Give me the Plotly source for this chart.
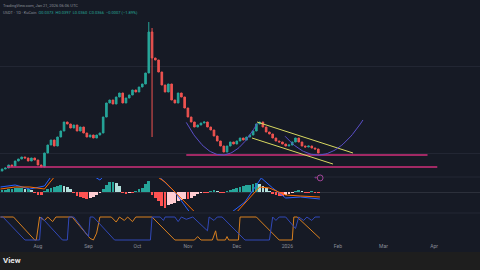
import plotly.graph_objects as go
import pandas as pd
import numpy as np

# ---------------- data ----------------
start = pd.Timestamp("2025-07-08")
close = [4, 6, 7, 10, 9, 14, 16, 18, 17, 14, 17, 15, 10, 8, 22, 30, 35, 29, 38, 44,
         53, 51, 47, 50, 44, 48, 42, 38, 40, 37, 40, 42, 58, 72, 75, 71, 78, 82, 72, 77,
         80, 85, 83, 88, 91, 102, 143, 117, 115, 103, 90, 83, 91, 75, 72, 82, 78, 67, 58, 53,
         48, 50, 52, 53, 48, 45, 39, 34, 29, 23, 29, 33, 31, 34, 37, 35, 38, 40, 44, 51,
         53, 48, 43, 41, 37, 34, 33, 31, 29, 30, 33, 37, 33, 29, 28, 29, 27, 26, 22]
first_open = 3
high_override = {46: 153, 47: 147}
low_override = {47: 38}

hist = [1, 2, 2, 3, 3, 4, 4, 4, 3, 3, 2, -1, -3, -3, 1, 3, 4, 5, 6, 7,
        6, 5, 3, -1, -4, -5, -6, -7, -6, -5, -3, -1, 3, 7, 10, 10, 9, 6, -1, -2,
        -1, -1, 1, 3, 4, 8, 11, -3, -6, -9, -14, -16, -13, -12, -11, -9, -8, -7, -7, -6,
        -4, -2, -1, -1, -1, 1, 2, 1, -1, -1, 1, 2, 3, 4, 5, 6, 7, 7, 8, 9,
        8, 6, 4, 1, -2, -3, -4, -4, -3, -2, -1, 1, 2, 1, -1, -1, 1, -1, -1]

macd_d = [1, 10, 19, 28, 34, 56, 62, 67, 93, 98, 108, 117, 139, 151, 161, 168, 176, 185, 197]
macd_v = [5, 7, 3, 6, 20, 18, 12, 20, 25, 16, 0, -20, -25, -10, 14, 4, -6, -5, -7]
signal_d = [1, 10, 19, 28, 34, 62, 93, 102, 122, 142, 146, 160, 166, 176, 185, 197]
signal_v = [3, 5, 5, 3, 15, 16, 20, 10, -23, -22, -20, 5, 4, -3, -4, -5]

up_d = [1, 9, 22, 23, 25, 28, 30, 33, 35, 45, 56, 58, 60, 62, 69, 72, 74, 77, 79, 82, 84, 94,
        108, 120, 122, 124, 131, 133, 134, 139, 140, 141, 147, 148, 158, 172, 180, 181, 183, 197]
up_v = [100, 100, 0, 0, 100, 85, 100, 80, 100, 100, 7, 0, 30, 100, 100, 78, 100, 85, 100, 80, 100, 100,
        0, 0, 15, 0, 0, 40, 0, 0, 15, 0, 0, 100, 100, 0, 0, 100, 100, 7]
down_d = [1, 2.5, 16, 25, 26, 39, 42, 43, 46, 55, 56, 58, 71, 93, 94, 99, 101, 102, 108, 110, 112,
          115, 119, 128, 129, 132, 134, 137, 151, 166, 168, 170, 172, 176, 182, 184, 187, 189, 192, 194, 197]
down_v = [100, 100, 0, 0, 100, 0, 0, 100, 100, 15, 100, 100, 0, 0, 100, 100, 85, 100, 100, 80, 100,
          90, 100, 40, 100, 85, 100, 100, 0, 0, 100, 85, 100, 100, 50, 100, 85, 100, 85, 100, 100]

# drawings (day offsets from start, price)
hlines = [(5, 269, 8), (115, 263, 20)]
channel = [((158.4, 53), (217.3, 22)), ((155.3, 37), (205, 11))]
arcs = [(115, 136.9, 158.5, 20, 0.068), (175.6, 195.8, 223.4, 20, 0.046)]

month_ticks = ["2025-08-01", "2025-09-01", "2025-10-01", "2025-11-01", "2025-12-01",
               "2026-01-01", "2026-02-01", "2026-03-01", "2026-04-01"]
month_labels = ["Aug", "Sep", "Oct", "Nov", "Dec", "2026", "Feb", "Mar", "Apr"]

# ---------------- build ----------------
def day(d):
    return start + pd.to_timedelta(d, unit="D")

dates = pd.date_range(start, periods=len(close), freq="2D")
opens = [first_open] + close[:-1]
highs = [high_override.get(i, max(o, c)) for i, (o, c) in enumerate(zip(opens, close))]
lows = [low_override.get(i, min(o, c)) for i, (o, c) in enumerate(zip(opens, close))]

BG = "#161a25"
fig = go.Figure()
fig.add_trace(go.Candlestick(
    x=dates, open=opens, high=highs, low=lows, close=close,
    increasing=dict(line=dict(color="#26a69a", width=1), fillcolor="#26a69a"),
    decreasing=dict(line=dict(color="#ef5350", width=1), fillcolor="#ef5350"),
    whiskerwidth=0, xaxis="x", yaxis="y", showlegend=False))

for (d0, d1, p) in hlines:
    fig.add_trace(go.Scatter(x=[day(d0), day(d1)], y=[p, p], mode="lines",
                             line=dict(color="#d12f7a", width=1.5), yaxis="y", showlegend=False))
for (a, b) in channel:
    fig.add_trace(go.Scatter(x=[day(a[0]), day(b[0])], y=[a[1], b[1]], mode="lines",
                             line=dict(color="#d8d860", width=1), yaxis="y", showlegend=False))
for (d0, dv, d1, pv, k) in arcs:
    dd = np.linspace(d0, d1, 60)
    fig.add_trace(go.Scatter(x=[day(v) for v in dd], y=pv + k * (dd - dv) ** 2, mode="lines",
                             line=dict(color="#5b4fc9", width=1), yaxis="y", showlegend=False))

# MACD pane
cols = []
for i, v in enumerate(hist):
    prev = hist[i - 1] if i else v
    if v >= 0:
        cols.append("#26a69a" if v >= prev else "#b2dfdb")
    else:
        cols.append("#ff5252" if v <= prev else "#ffcdd2")
fig.add_trace(go.Bar(x=dates, y=hist, marker=dict(color=cols, line=dict(width=0)),
                     width=2 * 86400000 * 0.85, yaxis="y2", showlegend=False))
fig.add_trace(go.Scatter(x=[day(d) for d in macd_d], y=macd_v, mode="lines",
                         line=dict(color="#2962ff", width=1), yaxis="y2", showlegend=False))
fig.add_trace(go.Scatter(x=[day(d) for d in signal_d], y=signal_v, mode="lines",
                         line=dict(color="#ff6d00", width=1), yaxis="y2", showlegend=False))

# Aroon pane
fig.add_trace(go.Scatter(x=[day(d) for d in up_d], y=up_v, mode="lines",
                         line=dict(color="#d9801f", width=1), yaxis="y3", showlegend=False))
fig.add_trace(go.Scatter(x=[day(d) for d in down_d], y=down_v, mode="lines",
                         line=dict(color="#3148b8", width=1), yaxis="y3", showlegend=False))

fig.update_layout(
    width=480, height=270, margin=dict(l=0, r=0, t=0, b=0),
    paper_bgcolor=BG, plot_bgcolor=BG, bargap=0,
    xaxis=dict(type="date", range=["2025-07-08 17:00", "2026-04-29 05:00"], anchor="y3",
               tickvals=month_ticks, ticktext=month_labels, showgrid=False, zeroline=False,
               showline=False, ticks="", tickfont=dict(size=5, color="#8a8e99", family="Roboto"),
               rangeslider=dict(visible=False)),
    yaxis=dict(domain=[0.3481, 0.9333], range=[-1, 157], tickvals=[22, 109],
               showticklabels=False, gridcolor="#222633", gridwidth=1, zeroline=False),
    yaxis2=dict(domain=[0.2185, 0.3407], range=[-19, 14], showticklabels=False,
                showgrid=False, zeroline=True, zerolinecolor="#2c303b", zerolinewidth=1),
    yaxis3=dict(domain=[0.1037, 0.2037], range=[-8.7, 108.7], showticklabels=False,
                showgrid=False, zeroline=False),
    shapes=[
        dict(type="line", xref="paper", yref="paper", x0=0, x1=1, y0=0.3444, y1=0.3444,
             line=dict(color="#232734", width=1)),
        dict(type="line", xref="paper", yref="paper", x0=0, x1=1, y0=0.2111, y1=0.2111,
             line=dict(color="#232734", width=1)),
        dict(type="rect", xref="paper", yref="paper", x0=0, x1=1, y0=0, y1=0.0667,
             fillcolor="#1e1e1e", line=dict(width=0)),
        dict(type="circle", xref="paper", yref="paper", x0=0.661, x1=0.673, y0=0.330, y1=0.352,
             line=dict(color="#a2469a", width=1)),
    ],
    annotations=[
        dict(text="TradingView.com, Jan 21, 2026 06:06 UTC", xref="paper", yref="paper",
             x=0.002, y=0.981, xanchor="left", yanchor="middle", showarrow=False,
             font=dict(size=4, color="#8a8e99", family="Roboto")),
        dict(text="USDT · 1D · KuCoin  <span style='color:#26a69a'>O0.0373  H0.0397  L0.0360  "
                  "C0.0366  −0.0007 (−1.89%)</span>", xref="paper", yref="paper",
             x=0.002, y=0.955, xanchor="left", yanchor="middle", showarrow=False,
             font=dict(size=4, color="#8a8e99", family="Roboto")),
        dict(text="+", xref="paper", yref="paper", x=0.667, y=0.341, showarrow=False,
             font=dict(size=6, color="#a2469a")),
        dict(text="<b>View</b>", xref="paper", yref="paper", x=0.002, y=0.037,
             xanchor="left", yanchor="middle", showarrow=False,
             font=dict(size=8, color="#e6e6e6", family="Roboto")),
    ],
)

fig.write_html("out.html")
